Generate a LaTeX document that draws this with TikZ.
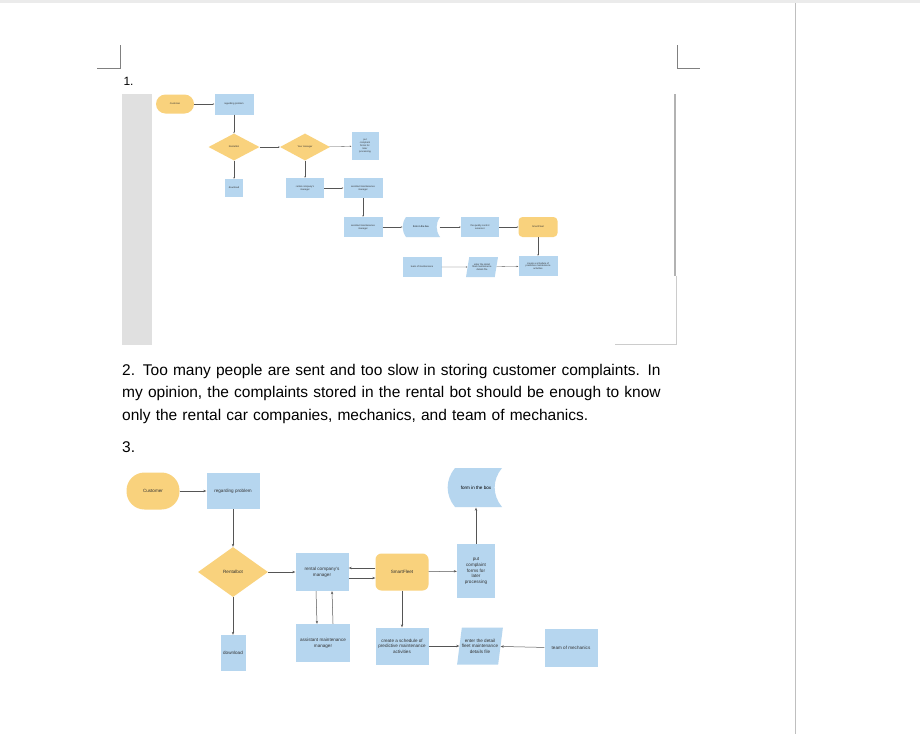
\documentclass[tikz,border=0pt]{standalone}
\usepackage{fontspec}
\setmainfont{Liberation Sans}
\usetikzlibrary{shapes.geometric,arrows.meta}
\definecolor{yel}{HTML}{F9D27D}
\definecolor{blu}{HTML}{B6D6EF}
\definecolor{arr}{HTML}{555555}
\begin{document}
\begin{tikzpicture}[x=1pt,y=-1pt,
 bx/.style={fill=blu,inner sep=0pt,align=center,text=black!80},
 st/.style={bx,fill=yel,rounded corners=#1},
 dm/.style={diamond,fill=yel,inner sep=0pt,aspect=1.9,text=black!80},
 pg/.style={trapezium,trapezium left angle=72,trapezium right angle=108,fill=blu,inner sep=0pt,align=center,text=black!80,trapezium stretches=true},
 ar/.style={draw=arr,line width=0.5pt,-{Stealth[length=3pt,width=2.4pt]}},
 sar/.style={draw=arr,line width=0.3pt,-{Stealth[length=1.6pt,width=1.3pt]}},
 tx/.style={font=\fontsize{2.4}{2.8}\selectfont},
 bt/.style={font=\fontsize{4.6}{5.6}\selectfont}]
\useasboundingbox (0,0) rectangle (920,734);
\fill[white] (0,0) rectangle (920,734);
\fill[black!8] (0,0) rectangle (920,3);
\draw[black!25] (795,3) -- (795,734);
% corner marks
\draw[black!50,line width=0.6pt] (120,45) -- (120,68) -- (97,68);
\draw[black!50,line width=0.6pt] (677,45) -- (677,68) -- (700,68);
\node[anchor=west,font=\fontsize{12}{14}\selectfont] (n1) at (120,81) {1.};
% top image
\fill[black!12] (122,94) rectangle (152,345);
\draw[black!30,line width=1.2pt] (675,94) -- (675,276);
\draw[black!20,line width=0.4pt] (615,344) -- (676,344) -- (676,276);
% top nodes
\node[st=9.5pt,tx,minimum width=38pt,minimum height=19pt] (a1) at (175,104) {Customer};
\node[bx,tx,minimum width=39pt,minimum height=21pt] (a2) at (234,104) {regarding problem};
\node[dm,tx,minimum width=51pt,minimum height=27pt] (a3) at (234,147) {Rentalbot};
\node[dm,tx,minimum width=50pt,minimum height=27pt] (a4) at (305,147) {Your manager};
\node[bx,tx,minimum width=27pt,minimum height=28pt] (a5) at (365,146) {put\\complaint\\forms for\\later\\processing};
\node[bx,tx,minimum width=18pt,minimum height=18pt] (a6) at (234,188) {download};
\node[bx,tx,minimum width=38pt,minimum height=20pt] (a7) at (305,188) {rental company's\\manager};
\node[bx,tx,minimum width=39pt,minimum height=20pt] (a8) at (363,188) {assistant maintenance\\manager};
\node[bx,tx,minimum width=39pt,minimum height=20pt] (a9) at (363,227) {assistant maintenance\\manager};
\fill[blu] (406,217) -- (440,217) to[bend right=35] (440,237) -- (406,237) to[bend left=35] (406,217);
\node[tx,inner sep=0pt,minimum width=37pt,minimum height=20pt] (a10) at (421,227) {form in the box};
\node[bx,tx,minimum width=38pt,minimum height=20pt] (a11) at (480,227) {the quality control\\assessor};
\node[st=4pt,tx,minimum width=39pt,minimum height=20pt] (a12) at (538,227) {SmartFleet};
\node[bx,tx,minimum width=39pt,minimum height=20pt] (a13) at (422,267) {team of maintenance};
\node[pg,tx,minimum width=32pt,minimum height=20pt] (a14) at (482,267) {enter the detail\\fleet maintenance\\details file};
\node[bx,tx,minimum width=39pt,minimum height=20pt] (a15) at (538,266) {create a schedule of\\predictive maintenance\\activities};
\draw[sar] (a1) -- (a2);
\draw[sar] (a2) -- (a3);
\draw[sar] (a3) -- (a4);
\draw[sar] (a4) -- (a5);
\draw[sar] (a3) -- (a6);
\draw[sar] (a4) -- (a7);
\draw[sar] (a7) -- (a8);
\draw[sar] (a8) -- (a9);
\draw[sar] (a9) -- (a10);
\draw[sar] (a10) -- (a11);
\draw[sar] (a11) -- (a12);
\draw[sar] (a12) -- (a15);
\draw[sar] (a13) -- (a14);
\draw[sar] (a14) -- (a15);
% text
\node[anchor=north west,align=left,font=\fontsize{15.5}{22.5}\selectfont,inner sep=0pt,text width=560pt] (p2) at (122,364) {2. Too many people are sent and too slow in storing customer complaints. In my opinion, the complaints stored in the rental bot should be enough to know only the rental car companies, mechanics, and team of mechanics.};
\node[anchor=west,font=\fontsize{15.5}{18}\selectfont,inner sep=0pt] (n3) at (122,447) {3.};
% bottom nodes
\node[st=18pt,bt,minimum width=53pt,minimum height=37pt] (b1) at (153,491) {Customer};
\node[bx,bt,minimum width=53pt,minimum height=36pt] (b2) at (233,491) {regarding problem};
\node[dm,bt,minimum width=70pt,minimum height=50pt,aspect=1.4] (b3) at (233,572) {Rentalbot};
\node[bx,bt,minimum width=53pt,minimum height=38pt] (b4) at (322,572) {rental company's\\manager};
\node[st=6pt,bt,minimum width=53pt,minimum height=37pt] (b5) at (402,572) {SmartFleet};
\node[bx,bt,minimum width=38pt,minimum height=54pt] (b6) at (476,571) {put\\complaint\\forms for\\later\\processing};
\fill[blu] (455,468) -- (502,468) to[bend right=40] (502,507) -- (455,507) to[bend left=40] (455,468);
\node[bt,inner sep=0pt,minimum width=52pt,minimum height=39pt] (b7) at (476,488) {form in the box};
\node[bx,bt,minimum width=25pt,minimum height=36pt] (b8) at (233,653) {download};
\node[bx,bt,minimum width=54pt,minimum height=38pt] (b9) at (323,643) {assistant maintenance\\manager};
\node[bx,bt,minimum width=53pt,minimum height=37pt] (b10) at (402,646) {create a schedule of\\predictive maintenance\\activities};
\node[pg,bt,minimum width=44pt,minimum height=37pt] (b11) at (480,646) {enter the detail\\fleet maintenance\\details file};
\node[bx,bt,minimum width=53pt,minimum height=38pt] (b12) at (571,648) {team of mechanics};
\draw[ar] (b1) -- (b2);
\draw[ar] (b2) -- (b3);
\draw[ar] (b3) -- (b4);
\draw[ar] ([yshift=-6pt]b4.east) -- ([yshift=-6pt]b5.west);
\draw[ar] ([yshift=4pt]b5.west) -- ([yshift=4pt]b4.east);
\draw[ar] (b5) -- (b6);
\draw[ar] (b6) -- (b7);
\draw[ar] ([xshift=-6pt]b4.south) -- ([xshift=-6pt]b9.north);
\draw[ar] ([xshift=10pt]b9.north) -- ([xshift=10pt]b4.south);
\draw[ar] (b5) -- (b10);
\draw[ar] (b10) -- (b11);
\draw[ar] (b12) -- (b11);
\draw[ar] (b3) -- (b8);
\end{tikzpicture}
\end{document}
